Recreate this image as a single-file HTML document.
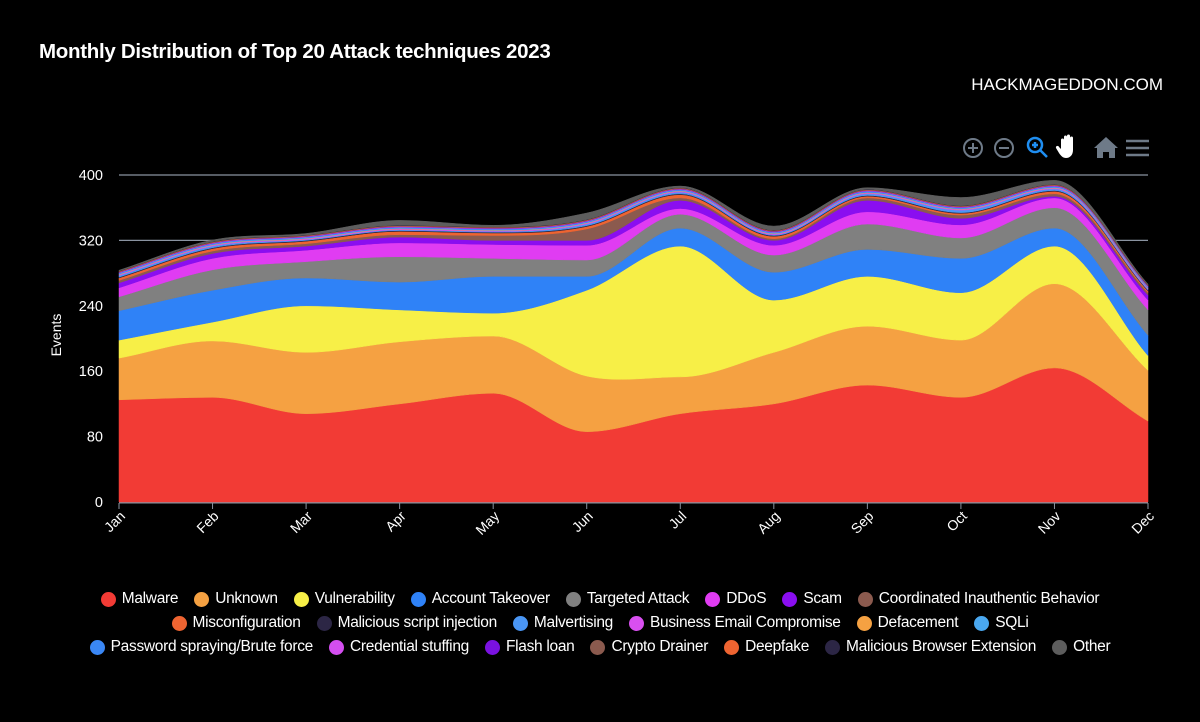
<!DOCTYPE html>
<html><head><meta charset="utf-8"><style>
html,body{margin:0;padding:0;background:#000;width:1200px;height:722px;overflow:hidden;font-family:"Liberation Sans",sans-serif;color:#fff}
.title{position:absolute;left:39px;top:40px;font-size:20.5px;font-weight:bold;letter-spacing:-0.3px}
.brand{position:absolute;right:37px;top:75px;font-size:17px}
.legend{position:absolute;left:0;width:1200px;top:587px}
.row{display:flex;justify-content:center;height:24px;align-items:center}
.item{display:flex;align-items:center;margin:0 8px;font-size:15.5px;letter-spacing:-0.3px;cursor:pointer}
.dot{width:15px;height:15px;border-radius:50%;margin-right:6px}
</style></head><body>
<div class="title">Monthly Distribution of Top 20 Attack techniques 2023</div>
<div class="brand">HACKMAGEDDON.COM</div>
<svg id="chart" width="1200" height="722" style="position:absolute;left:0;top:0">
<g id="toolbar" fill="none" stroke="#6e7a88" stroke-width="2">
<g><circle cx="973" cy="148" r="9"/><path d="M968 148h10M973 143v10"/></g>
<g><circle cx="1004" cy="148" r="9"/><path d="M999 148h10"/></g>
<g stroke="#1f8ef1" stroke-width="2.5"><circle cx="1035" cy="145" r="7"/><path d="M1040 150l7 7M1032 145h6M1035 142v6"/></g>
<g fill="#fff" stroke="none"><path d="M1061 149v-9a1.5 1.5 0 0 1 3 0v6v-9a1.5 1.5 0 0 1 3 0v9v-10a1.5 1.5 0 0 1 3 0v10v-8a1.5 1.5 0 0 1 3 0v12c0 5-3 8-7 8c-3 0-5-2-7-5l-3-5a1.5 1.5 0 0 1 3-1z"/></g>
<g fill="#6e7a88" stroke="none"><path d="M1106 137l12 11h-3v10h-6v-6h-6v6h-6v-10h-3z"/></g>
<g stroke-width="2.5"><path d="M1126 141h23M1126 148h23M1126 155h23"/></g>
</g>
</svg>
<div class="legend" id="legend"></div>
<script>
const months=["Jan","Feb","Mar","Apr","May","Jun","Jul","Aug","Sep","Oct","Nov","Dec"];
const seriesNames=["Malware","Unknown","Vulnerability","Account Takeover","Targeted Attack","DDoS","Scam","Coordinated Inauthentic Behavior","Misconfiguration","Malicious script injection","Malvertising","Business Email Compromise","Defacement","SQLi","Password spraying/Brute force","Credential stuffing","Flash loan","Crypto Drainer","Deepfake","Malicious Browser Extension","Other"];
const seriesColors=["#f23b35","#f5a142","#f7ef47","#2f82f7","#808080","#e03cf2","#8a0ef0","#8b5a4e","#ee6431","#2c2645","#4a96f5","#d94ff0","#f5a142","#4aa8f0","#3a87f5","#d44ef0","#7a12e0","#8b5a4e","#ee6431","#2c2645","#5d5d5d"];
const malware=[125,128,108,120,133,86,108,120,143,128,164,99];
const unknown=[51,69,75,76,70,68,45,63,72,70,103,62];
const vulnerability=[22,23,57,39,28,105,160,64,61,58,46,18];
const accountTakeover=[36,39,34,34,45,17,22,34,33,42,22,25];
const targeted=[17,25,20,31,22,20,17,21,31,25,25,31];
const ddos=[11,14,14,17,17,18,7,12,15,16,12,12];
const scam=[6,6,5,7,5,6,10,6,14,8,2,6];
const coordinated=[3,3,3,3,6,14,3,2,3,4,3,3];
const misconfig=[3,3,3,4,3,3,4,3,2,2,3,2];
const scriptInj=[1,1,1,1,1,1,1,1,1,1,1,1];
const malvertising=[2,2,1,1,1,2,2,1,2,3,2,1];
const bec=[1,1,1,1,1,1,1,1,1,1,1,1];
const defacement=[0.5,0.5,0.5,0.5,0.5,0.5,0.5,0.5,0.5,0.5,0.5,0.5];
const sqli=[0.5,0.5,0.5,0.5,0.5,0.5,0.5,0.5,0.5,0.5,0.5,0.5];
const password=[1,1,1,1,1,1,1,1,1,1,1,1];
const credStuffing=[0.5,0.5,0.5,0.5,0.5,0.5,0.5,0.5,0.5,0.5,0.5,0.5];
const flashLoan=[0.5,0.5,0.5,0.5,0.5,0.5,0.5,0.5,0.5,0.5,0.5,0.5];
const cryptoDrainer=[0.5,0.5,0.5,0.5,0.5,0.5,0.5,0.5,0.5,0.5,0.5,0.5];
const deepfake=[0.5,0.5,0.5,0.5,0.5,0.5,0.5,0.5,0.5,0.5,0.5,0.5];
const browserExt=[0.5,0.5,0.5,0.5,0.5,0.5,0.5,0.5,0.5,0.5,0.5,0.5];
const other=[1,2,2,6,2,8,2,5,2,10,5,1];
const yTicks=[0,80,160,240,320,400];
const allSeries=[malware,unknown,vulnerability,accountTakeover,targeted,ddos,scam,coordinated,misconfig,scriptInj,malvertising,bec,defacement,sqli,password,credStuffing,flashLoan,cryptoDrainer,deepfake,browserExt,other];

const NS="http://www.w3.org/2000/svg";
const svg=document.getElementById('chart');
const X0=119,X1=1148,Y0=502,Y400=175;
const xs=i=>X0+(X1-X0)*i/(months.length-1);
const ys=v=>Y0-(Y0-Y400)*v/400;
function mk(t,a,p){const e=document.createElementNS(NS,t);for(const k in a)e.setAttribute(k,a[k]);(p||svg).appendChild(e);return e;}
yTicks.forEach(t=>{
  const g=mk('line',{x1:X0,x2:X1,y1:ys(t),y2:ys(t),stroke:'#8a93a0','stroke-width':1.2});
  
  
  const l=mk('text',{x:103,y:ys(t)+5,'text-anchor':'end',fill:'#fff','font-size':14.5});
  l.textContent=t;
  
  
});
const yt=mk('text',{x:0,y:0,transform:'translate(61,335) rotate(-90)','text-anchor':'middle',fill:'#fff','font-size':14});
yt.textContent='Events';


function curve(pts,move){
  let d=move?`M${pts[0][0]},${pts[0][1]}`:`L${pts[0][0]},${pts[0][1]}`;
  const n=pts.length;
  const tang=pts.map((p,i)=>{
    if(i===0)return (pts[1][1]-p[1])/(pts[1][0]-p[0]);
    if(i===n-1)return (p[1]-pts[i-1][1])/(p[0]-pts[i-1][0]);
    const s0=(p[1]-pts[i-1][1])/(p[0]-pts[i-1][0]),s1=(pts[i+1][1]-p[1])/(pts[i+1][0]-p[0]);
    if(s0*s1<=0)return 0;return (s0+s1)/2;
  });
  for(let i=0;i<n-1;i++){
    const dx=(pts[i+1][0]-pts[i][0])/3;
    d+=` C${pts[i][0]+dx},${pts[i][1]+tang[i]*dx} ${pts[i+1][0]-dx},${pts[i+1][1]-tang[i+1]*dx} ${pts[i+1][0]},${pts[i+1][1]}`;
  }
  return d;
}
let base=months.map(()=>0);
const areas=mk('g',{});


allSeries.forEach((s,k)=>{
  const top=base.map((b,i)=>b+s[i]);
  const tp=top.map((v,i)=>[xs(i),ys(v)]);
  const bp=base.map((v,i)=>[xs(i),ys(v)]).reverse();
  let d=curve(tp,true)+' '+(k===0?`L${X1},${Y0} L${X0},${Y0}`:curve(bp,false))+' Z';
  const p=mk('path',{d:d,fill:seriesColors[k],stroke:seriesColors[k],'stroke-width':0.5},areas);
  
  
  base=top;
});
const ax=mk('line',{x1:X0,x2:X1,y1:Y0+1,y2:Y0+1,stroke:'#8a93a0','stroke-width':1});


months.forEach((m,i)=>{
  const tk=mk('line',{x1:xs(i),x2:xs(i),y1:Y0+1,y2:Y0+7,stroke:'#8a93a0'});
  
  
  const t=mk('text',{x:0,y:0,transform:`translate(${xs(i)+7},${Y0+15}) rotate(-45)`,'text-anchor':'end',fill:'#fff','font-size':14});
  t.textContent=m;
  
  
});
const rows=[[0,8],[8,14],[14,21]];
const lg=document.getElementById('legend');
rows.forEach(r=>{
  const row=document.createElement('div');row.className='row';
  
  
  for(let k=r[0];k<r[1];k++){
    const it=document.createElement('div');it.className='item';
    
    
    it.innerHTML=`<span class="dot" style="background:${seriesColors[k]}"></span>${seriesNames[k]}`;
    row.appendChild(it);
  }
  lg.appendChild(row);
});
</script>
</body></html>
